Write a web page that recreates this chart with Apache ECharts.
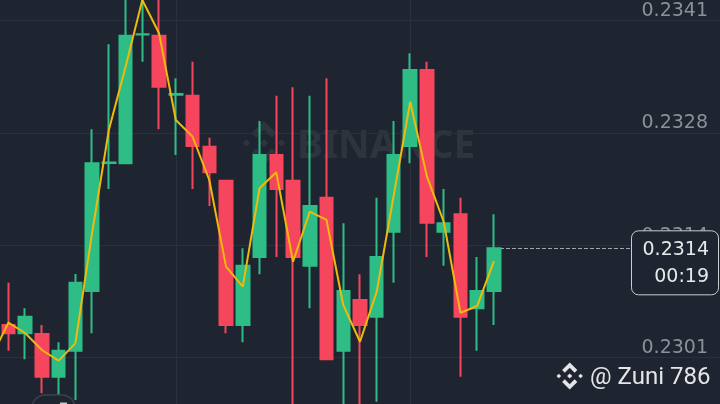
<!DOCTYPE html>
<html><head><meta charset="utf-8">
<script src="https://cdn.jsdelivr.net/npm/echarts@6/dist/echarts.min.js"></script>
<style>html,body{margin:0;padding:0;background:#1e2530;}#c{width:720px;height:404px;}</style>
</head><body><div id="c"></div>
<script>
// ---- data ----
const categories = ['k-1','k0','k1','k2','k3','k4','k5','k6','k7','k8','k9','k10','k11','k12','k13','k14','k15','k16','k17','k18','k19','k20','k21','k22','k23','k24','k25','k26','k27','k28','k29','k30','k31','k32','k33','k34','k35','k36','k37','k38','k39','k40','k41','k42'];
const opens  = [null,0.230484,0.230385,0.230377,0.229869,0.230178,0.230888,0.232410,0.232405,0.233935,0.233922,0.233220,0.233209,0.232603,0.232199,0.230484,0.231292,0.232504,0.232199,0.231189,0.231997,0.230178,0.230781,0.230582,0.231593,0.232611,0.233514,0.231593,0.231799,0.230682,0.230888];
const closes = [null,0.230385,0.230582,0.229869,0.230178,0.230987,0.232405,0.232415,0.233922,0.233940,0.233316,0.233230,0.232611,0.232298,0.230484,0.231189,0.232504,0.232100,0.231292,0.231898,0.230076,0.230888,0.230484,0.231292,0.232504,0.233514,0.231700,0.231692,0.230582,0.230888,0.231395];
const lows   = [null,0.230178,0.230076,0.229672,0.229652,0.229593,0.230385,0.232100,0.232400,0.233613,0.232809,0.232504,0.232100,0.231898,0.230385,0.230278,0.231086,0.231292,0.229450,0.230682,0.230076,0.229450,0.229450,0.229572,0.230987,0.232405,0.231292,0.231189,0.229869,0.230178,0.230484];
const highs  = [null,0.230987,0.230682,0.230484,0.230278,0.231090,0.232809,0.233820,0.234382,0.234400,0.234400,0.233416,0.233613,0.232710,0.232199,0.231395,0.232908,0.233209,0.233309,0.233209,0.233416,0.231692,0.231086,0.231997,0.232908,0.233713,0.233613,0.232100,0.231997,0.231292,0.231799];
const maLine = [0.230104,0.230511,0.230389,0.230187,0.230060,0.230266,0.231577,0.232801,0.233553,0.234346,0.233950,0.232920,0.232722,0.232207,0.231177,0.230939,0.232108,0.232298,0.231236,0.231830,0.231732,0.230722,0.230285,0.230880,0.232008,0.233137,0.232246,0.231711,0.230630,0.230710,0.231244];
const tickValues = [0.2301, 0.231433, 0.232767, 0.2341];
const tickLabels = ['0.2301', '0.2314', '0.2328', '0.2341'];
const vLineCats = ['k10', 'k24'];
const countdown = '00:19';
const watermark = 'BINANCE';
const signature = '@ Zuni 786';

// ---- style ----
const BG = '#1e2530', GRID = '#2a313c', UP = '#2ebd85', DOWN = '#f6465d', MA = '#f0b90b';
const step = (tickValues[3] - tickValues[0]) / 3;
const axisMin = tickValues[0] - step, axisMax = tickValues[3] + step;
const catW = 720 / 43;

const candleData = opens.map((o, i) => o == null ? '-' : [o, closes[i], lows[i], highs[i]]);
const lastIdx = opens.length - 1, lastClose = closes[lastIdx];

function logo(cx, cy, r, fill, z) {
  const P = pts => ({type: 'polygon', z, silent: true, shape: {points: pts.map(([x, y]) => [cx + x * r, cy + y * r])}, style: {fill}});
  const dia = (x0, y0, s) => P([[x0, y0 - s], [x0 + s, y0], [x0, y0 + s], [x0 - s, y0]]);
  return [
    dia(0, 0, 0.19), dia(-0.8, 0, 0.17), dia(0.8, 0, 0.17),
    P([[0, -1], [0.56, -0.44], [0.36, -0.24], [0, -0.6], [-0.36, -0.24], [-0.56, -0.44]]),
    P([[0, 1], [0.56, 0.44], [0.36, 0.24], [0, 0.6], [-0.36, 0.24], [-0.56, 0.44]])
  ];
}

const chart = echarts.init(document.getElementById('c'), null, {renderer: 'canvas'});
chart.setOption({
  animation: false,
  backgroundColor: BG,
  grid: {left: -catW, right: 0, top: -91.5, bottom: -65.5, containLabel: false, outerBoundsMode: 'none'},
  xAxis: {type: 'category', data: categories, boundaryGap: true,
    axisLine: {show: false}, axisTick: {show: false}, axisLabel: {show: false}, splitLine: {show: false}},
  yAxis: {type: 'value', position: 'right', min: axisMin, max: axisMax, interval: step,
    axisLine: {show: false}, axisTick: {show: false},
    splitLine: {show: true, lineStyle: {color: GRID, width: 1}},
    axisLabel: {inside: true, margin: 12, verticalAlign: 'bottom', color: '#8b919b', fontSize: 19, fontFamily: 'DejaVu Sans',
      formatter: v => { const k = tickValues.findIndex(t => Math.abs(t - v) < 0.00005); return k < 0 ? '' : tickLabels[k]; }}},
  series: [
    {type: 'candlestick', data: candleData, barWidth: 13,
      itemStyle: {color: UP, color0: DOWN, borderColor: UP, borderColor0: DOWN, borderWidth: 2},
      markLine: {silent: true, z: 1, symbol: ['none', 'none'], label: {show: false}, animation: false,
        data: [
          ...vLineCats.map(c => ({xAxis: c, lineStyle: {color: GRID, width: 1, type: 'solid'}})),
          [{xAxis: lastIdx, yAxis: lastClose, lineStyle: {color: '#a0a6ae', width: 1, type: [4, 2]}},
           {xAxis: categories.length - 1, yAxis: lastClose}]
        ]}},
    {type: 'line', data: maLine, symbol: 'none', z: 3, lineStyle: {color: MA, width: 2}, itemStyle: {color: MA}}
  ]
});

const ly = chart.convertToPixel({gridIndex: 0}, [lastIdx, lastClose])[1];
const WM = 'rgba(255,255,255,0.07)';
chart.setOption({
  graphic: [
    ...logo(264, 143, 22, WM, -1),
    {type: 'text', z: -1, silent: true, x: 297, y: 147, style: {text: watermark, fontSize: 39, fontWeight: 'bold', fontFamily: 'Noto Sans', fill: WM, align: 'left', verticalAlign: 'middle'}},
    {type: 'rect', z: 100, silent: true, shape: {x: 631.5, y: ly - 17.5, width: 87, height: 64, r: 7}, style: {fill: BG, stroke: '#c9cdd3', lineWidth: 1}},
    {type: 'text', z: 101, silent: true, x: 709, y: ly + 2, style: {text: lastClose.toFixed(4), fontSize: 19, fontFamily: 'DejaVu Sans', fill: '#e8e9eb', align: 'right', verticalAlign: 'middle'}},
    {type: 'text', z: 101, silent: true, x: 709, y: ly + 29, style: {text: countdown, fontSize: 19, fontFamily: 'DejaVu Sans', fill: '#e8e9eb', align: 'right', verticalAlign: 'middle'}},
    ...logo(569.7, 376, 13.6, '#e4e5e7', 100),
    {type: 'text', z: 100, silent: true, x: 590, y: 378, style: {text: signature, fontSize: 24, fontFamily: 'Roboto', fill: '#e4e5e7', align: 'left', verticalAlign: 'middle'}},
    {type: 'rect', z: 100, silent: true, shape: {x: 32, y: 395, width: 43, height: 30, r: 13}, style: {fill: BG, stroke: '#3a414c', lineWidth: 1.5}},
    {type: 'rect', z: 101, silent: true, shape: {x: 60, y: 402.5, width: 7, height: 3}, style: {fill: '#c3c6cb'}}
  ]
});
</script></body></html>
